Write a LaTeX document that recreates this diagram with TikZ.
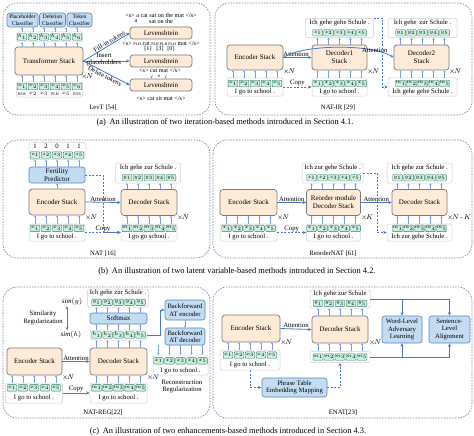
\documentclass[tikz,border=0pt]{standalone}
\usepackage{fontspec}
\setmainfont{Liberation Serif}
\newfontfamily\djv{DejaVu Sans}
\usetikzlibrary{arrows.meta,calc}
\definecolor{pan}{HTML}{7D8DAE}
\definecolor{orf}{HTML}{FDEBD8}
\definecolor{stkb}{HTML}{7A7A7A}
\definecolor{bf}{HTML}{C3DCF2}
\definecolor{bb}{HTML}{5A86C0}
\definecolor{tokf}{HTML}{CDEFE0}
\definecolor{tokb}{HTML}{2E7D6E}
\definecolor{contc}{HTML}{CFCFCF}
\definecolor{sa}{HTML}{7C9EE0}
\definecolor{ma}{HTML}{4A78C8}
\newcommand\fsL{\fontsize{7}{8}\selectfont}
\newcommand\fsM{\fontsize{6.7}{7.4}\selectfont}
\newcommand\fsV{\fontsize{6.2}{7}\selectfont}
\newcommand\fsS{\fontsize{5.6}{6.2}\selectfont}
\newcommand\fsT{\fontsize{5}{5.5}\selectfont}
\newcommand\fsX{\fontsize{4}{4.5}\selectfont}
\newcommand\fsC{\fontsize{8.4}{9.5}\selectfont}
\newcommand\trow[5]{\foreach \i in {1,...,#5}{\node[tok] (#1\i) at ({#2+(\i-1)*11},#3) {$#4_{\i}$};}}
\newcommand\arrs[4]{\foreach \i in {1,...,#4}{\draw[sarr] (#1.north -| #3\i) -- (#2.south -| #3\i);}}
\begin{document}
\begin{tikzpicture}[x=1pt,y=-1pt,
 panel/.style={draw=pan, dash pattern=on 1.6pt off 1.2pt, rounded corners=14pt, line width=0.7pt},
 tok/.style={draw=tokb, fill=tokf, rounded corners=0.8pt, minimum width=9.6pt, minimum height=6.5pt, inner sep=0pt, line width=0.4pt, font=\fsT},
 stk/.style={draw=stkb, fill=orf, rounded corners=3pt, line width=0.7pt, align=center, font=\fsL, inner sep=1pt},
 bbox/.style={draw=bb, fill=bf, rounded corners=2.5pt, line width=0.6pt, align=center, font=\fsS, inner sep=0.5pt},
 cont/.style={draw=contc, rounded corners=1.5pt, line width=0.5pt, inner sep=0pt},
 txt/.style={font=\fsM, inner sep=0pt},
 lab/.style={font=\fsM, inner sep=0.6pt},
 capt/.style={font=\fsC, inner sep=0pt},
 xn/.style={font=\fsL, inner sep=0pt, anchor=west},
 sarr/.style={draw=sa, line width=0.7pt, -{Stealth[length=2pt,width=2.3pt]}},
 marr/.style={draw=ma, line width=0.8pt, -{Stealth[length=3.5pt,width=3pt]}},
 darr/.style={marr, dash pattern=on 2pt off 1.5pt},
 mline/.style={draw=ma, line width=0.8pt}]
\useasboundingbox (0,0) rectangle (474,436);

% ================= (a) LevT =================
\draw[panel] (3,3) rectangle (210,115);
\node[lab] (levtlab) at (103,108) {LevT [54]};
\node[bbox, minimum width=31pt, minimum height=14pt] (pc) at (22.5,20) {Placeholder\\Classifier};
\node[bbox, minimum width=26pt, minimum height=14pt] (dc) at (52.5,20) {Deletion\\Classifier};
\node[bbox, minimum width=25pt, minimum height=14pt] (tc) at (79.5,20) {Token\\Classifier};
\node[cont, minimum width=66pt, minimum height=10pt] (ahc) at (49.5,37) {};
\trow{ah}{22}{37}{h}{6}
\draw[sarr] (ahc.north -| ah1) -- (pc.south -| ah1);
\draw[sarr] (ahc.north -| ah2) -- (pc.south -| ah2);
\draw[sarr] (ahc.north -| ah3) -- (dc.south -| ah3);
\draw[sarr] (ahc.north -| ah4) -- (dc.south -| ah4);
\draw[sarr] (ahc.north -| ah5) -- (tc.south -| ah5);
\draw[sarr] (ahc.north -| ah6) -- (tc.south -| ah6);
\node[stk, minimum width=68pt, minimum height=28pt] (ts) at (49,61) {Transformer Stack};
\arrs{ts}{ahc}{ah}{6}
\node[cont, minimum width=66pt, minimum height=15pt] (axc) at (49.5,89.5) {};
\trow{ax}{22}{86.5}{x}{6}
\node[txt,font=\fsX] (axl1) at (22,93.8) {BOS};
\node[txt,font=\fsT] (axl2) at (33,93.8) {$x_2$};
\node[txt,font=\fsT] (axl3) at (44,93.8) {$x_3$};
\node[txt,font=\fsX] (axl4) at (55,93.8) {PLH};
\node[txt,font=\fsT] (axl5) at (66,93.8) {$x_5$};
\node[txt,font=\fsX] (axl6) at (77,93.8) {EOS};
\arrs{axc}{ts}{ax}{6}
\node[xn] (axn) at (81,77) {$\times\! N$};
\node[stk, minimum width=62pt, minimum height=12pt] (lv1) at (161,33) {Levenshtein};
\node[stk, minimum width=62pt, minimum height=12pt] (lv2) at (161,61) {Levenshtein};
\node[stk, minimum width=62pt, minimum height=12pt] (lv3) at (161,85) {Levenshtein};
\node[txt,font=\fsV] (lt1) at (161,15) {<s> a cat sat on the mat </s>};
\node[txt,font=\fsV] (lt2) at (136,21.5) {a};
\node[txt,font=\fsV] (lt3) at (161,21.5) {sat on the};
\node[txt,font=\fsV] (lt4) at (161,43) {<s> {\fsX PLH} cat {\fsX PLH PLH PLH} mat </s>};
\node[txt,font=\fsV] (lt5) at (148,49) {[1]};
\node[txt,font=\fsV] (lt6) at (160,49) {[3]};
\node[txt,font=\fsV] (lt7) at (171,49) {[0]};
\node[txt,font=\fsV] (lt8) at (160,70) {<s> cat mat </s>};
\node[txt,font=\djv\fsX] (lt9) at (152,76.5) {√};
\node[txt,font=\djv\fsX] (lt10) at (159,76.5) {×};
\node[txt,font=\djv\fsX] (lt11) at (166,76.5) {√};
\node[txt,font=\fsV] (lt12) at (161,98) {<s> cat sit mat </s>};
\draw[marr] (ts.east) -- node[lab, sloped, above, pos=0.6] {Fill-in tokens} (lv1.west);
\draw[marr] (ts.east) -- (lv2.west);
\node[lab, align=center] (insl) at (104,59.5) {Insert\\placeholders};
\draw[marr] (ts.east) -- node[lab, sloped, below, pos=0.5] {Delete tokens} (lv3.west);

% ================= NAT-IR =================
\draw[panel] (215,3) rectangle (472,115);
\node[lab] (natirlab) at (338,108) {NAT-IR [29]};
\node[stk, minimum width=56pt, minimum height=25pt] (ie) at (255,57.5) {Encoder Stack};
\node[cont, minimum width=56pt, minimum height=18pt] (iein) at (255,87) {};
\trow{iex}{233}{83.5}{x}{5}
\node[txt] (ieint) at (255,91.5) {I go to school .};
\arrs{iein}{ie}{iex}{5}
\node[xn] (ien) at (283,72) {$\times\! N$};
\node[stk, minimum width=55pt, minimum height=25pt] (id1) at (339.5,57.5) {Decoder1\\Stack};
\node[cont, minimum width=55pt, minimum height=18pt] (id1in) at (339.5,87) {};
\trow{id1x}{317.5}{83.5}{x}{5}
\node[txt] (id1int) at (339.5,91.5) {I go to school .};
\arrs{id1in}{id1}{id1x}{5}
\node[xn] (id1n) at (367,72) {$\times\! N$};
\node[cont, minimum width=68pt, minimum height=19pt] (id1out) at (339.5,28) {};
\node[txt] (id1outt) at (339.5,23) {Ich gehe gehe Schule .};
\trow{id1z}{317.5}{32.8}{z}{5}
\arrs{id1}{id1out}{id1z}{5}
\node[stk, minimum width=55pt, minimum height=25pt] (id2) at (421.5,57.5) {Decoder2\\Stack};
\node[cont, minimum width=69pt, minimum height=18pt] (id2in) at (422.5,87) {};
\trow{id2m}{400.5}{83.5}{m}{5}
\node[txt] (id2int) at (422.5,91.5) {Ich gehe gehe Schule .};
\arrs{id2in}{id2}{id2m}{5}
\node[xn] (id2n) at (449,72) {$\times\! N$};
\node[cont, minimum width=69pt, minimum height=19pt] (id2out) at (422.5,28) {};
\node[txt] (id2outt) at (422.5,23) {Ich gehe\, zur Schule .};
\trow{id2y}{400.5}{32.8}{y}{5}
\arrs{id2}{id2out}{id2y}{5}
\draw[marr] (ie.east) -- node[lab, above, pos=0.45] {Attention} (id1.west);
\draw[marr] (ie.east) .. controls (300,45) and (370,43) .. node[lab, pos=0.8, inner sep=0pt] {Attention} (id2.west);
\draw[darr] (iein.east) -- node[lab, above] {Copy} (id1in.west);
\draw[darr] (id1out.north east) -- ++(9,0) |- (id2in.west);

% ================= NAT =================
\draw[panel] (3,140) rectangle (210,258);
\node[lab] (natlab) at (103,254) {NAT [16]};
\node[cont, minimum width=56pt, minimum height=17pt] (nfc) at (57,151) {};
\trow{nz}{35}{155}{z}{5}
\node[txt] (nn1) at (35,146.5) {1};
\node[txt] (nn2) at (46,146.5) {2};
\node[txt] (nn3) at (57,146.5) {0};
\node[txt] (nn4) at (68,146.5) {1};
\node[txt] (nn5) at (79,146.5) {1};
\node[bbox, font=\fsL, minimum width=56pt, minimum height=16pt] (nfp) at (57,175) {Fertility\\Predictor};
\arrs{nfp}{nfc}{nz}{5}
\node[stk, minimum width=56pt, minimum height=26pt] (ne) at (57,202) {Encoder Stack};
\draw[sarr] (ne.north) -- (nfp.south);
\node[cont, minimum width=56pt, minimum height=17pt] (nein) at (57,232.5) {};
\trow{nex}{35}{228.3}{x}{5}
\node[txt] (neint) at (57,237) {I go to school .};
\arrs{nein}{ne}{nex}{5}
\node[xn] (nen) at (85,218) {$\times\! N$};
\node[stk, minimum width=56pt, minimum height=26pt] (nd) at (149,202.5) {Decoder Stack};
\node[cont, minimum width=65pt, minimum height=20pt] (ndout) at (148,173) {};
\node[txt] (ndoutt) at (148,168.3) {Ich gehe zur Schule .};
\trow{ndy}{127}{177.7}{y}{5}
\arrs{nd}{ndout}{ndy}{5}
\node[cont, minimum width=56pt, minimum height=17pt] (ndin) at (149,232.5) {};
\trow{ndm}{127}{228.3}{m}{5}
\node[txt] (ndint) at (149,237) {I go go school .};
\arrs{ndin}{nd}{ndm}{5}
\node[xn] (ndn) at (177,218) {$\times\! N$};
\draw[marr] (ne.east) -- node[lab, above, pos=0.5] {Attention} (nd.west);
\draw[darr] (nfp.east) -- ++(18,0) |- (ndin.west);
\draw[darr] (nein.east) -- node[lab, above, pos=0.5] {Copy} (ndin.west);

% ================= ReorderNAT =================
\draw[panel] (213,140) rectangle (472,258);
\node[lab] (rlab) at (333,254) {ReorderNAT [61]};
\node[stk, minimum width=57pt, minimum height=26pt] (re) at (248.5,202.5) {Encoder Stack};
\node[cont, minimum width=57pt, minimum height=17pt] (rein) at (248.5,232.5) {};
\trow{rex}{226.5}{228.3}{x}{5}
\node[txt] (reint) at (248.5,237) {I go to school .};
\arrs{rein}{re}{rex}{5}
\node[xn] (ren) at (277,218) {$\times\! N$};
\node[stk, minimum width=54pt, minimum height=26pt] (rr) at (333.5,202.5) {Reorder module\\Decoder Stack};
\node[cont, minimum width=61pt, minimum height=20pt] (rrout) at (332.5,173) {};
\node[txt] (rroutt) at (332.5,168.3) {Ich zur gehe Schule .};
\trow{rrz}{311.5}{177.7}{z}{5}
\arrs{rr}{rrout}{rrz}{5}
\node[cont, minimum width=54pt, minimum height=17pt] (rrin) at (333.5,232.5) {};
\trow{rrx}{311.5}{228.3}{x}{5}
\node[txt] (rrint) at (333.5,237) {I go to school .};
\arrs{rrin}{rr}{rrx}{5}
\node[xn] (rrn) at (361,218) {$\times\! K$};
\node[stk, minimum width=55pt, minimum height=26pt] (rd) at (419.5,202.5) {Decoder Stack};
\node[cont, minimum width=65pt, minimum height=20pt] (rdout) at (419.5,173) {};
\node[txt] (rdoutt) at (419.5,168.3) {Ich gehe zur Schule .};
\trow{rdy}{397.5}{177.7}{y}{5}
\arrs{rd}{rdout}{rdy}{5}
\node[cont, minimum width=65pt, minimum height=17pt] (rdin) at (419.5,232.5) {};
\trow{rdm}{397.5}{228.3}{m}{5}
\node[txt] (rdint) at (419.5,237) {Ich zur gehe Schule .};
\arrs{rdin}{rd}{rdm}{5}
\node[xn] (rdn) at (447,218) {$\times\! N$\,-\,$K$};
\draw[marr] (re.east) -- node[lab, above, pos=0.5] {Attention} (rr.west);
\draw[marr] (rr.east) -- node[lab, above, pos=0.5] {Attention} (rd.west);
\draw[darr] (rein.east) -- node[lab, above, pos=0.5] {Copy} (rrin.west);
\draw[darr] (rrout.east) -- ++(14,0) |- (rdin.west);

% ================= NAT-REG =================
\draw[panel] (3,287) rectangle (210,418);
\node[lab] (nrlab) at (103,413) {NAT-REG[22]};
\node[stk, minimum width=55pt, minimum height=27pt] (ge) at (34.5,361.5) {Encoder Stack};
\node[cont, minimum width=57pt, minimum height=20pt] (gein) at (34,393) {};
\trow{gex}{12}{387.8}{x}{5}
\node[txt] (geint) at (34,397.8) {I go to school .};
\arrs{gein}{ge}{gex}{5}
\node[xn] (gen) at (62,378) {$\times\! N$};
\node[stk, minimum width=57pt, minimum height=27pt] (gd) at (118.5,361.5) {Decoder Stack};
\node[cont, minimum width=57pt, minimum height=20pt] (gdin) at (118.5,393) {};
\trow{gdm}{96.5}{387.8}{m}{5}
\node[txt] (gdint) at (118.5,397.8) {I go to school .};
\arrs{gdin}{gd}{gdm}{5}
\node[xn] (gdn) at (147,378) {$\times\! N$};
\node[cont, minimum width=57pt, minimum height=10pt] (ghc) at (118.5,335) {};
\trow{gh}{96.5}{335}{h}{5}
\arrs{gd}{ghc}{gh}{5}
\node[bbox, font=\fsL, minimum width=57pt, minimum height=11pt] (gsm) at (118.5,318.5) {Softmax};
\arrs{ghc}{gsm}{gh}{5}
\node[cont, minimum width=61pt, minimum height=18pt] (gout) at (118,298) {};
\node[txt] (goutt) at (118,293.3) {Ich gehe zur Schule .};
\trow{gy}{96.5}{302.3}{y}{5}
\arrs{gsm}{gout}{gy}{5}
\node[lab, font=\fsL] (simy) at (72,302) {$\mathit{sim}(y)$};
\node[lab, font=\fsL] (simh) at (71,334.5) {$\mathit{sim}(h)$};
\draw[draw=ma, line width=0.8pt, {Stealth[length=3pt,width=3pt]}-{Stealth[length=3pt,width=3pt]}] ([xshift=-5pt]simy.south) -- ([xshift=-4pt]simh.north);
\node[lab, align=center] (simreg) at (43,318) {Similarity\\Regularization};
\node[bbox, font=\fsM, minimum width=40pt, minimum height=20pt] (gbe) at (185,310) {Backforward\\AT encoder};
\node[bbox, font=\fsM, minimum width=40pt, minimum height=17pt] (gbd) at (185,336.5) {Backforward\\AT decoder};
\draw[sarr] (gbe.south) -- (gbd.north);
\draw[marr] (ghc.east) -- ++(13,0) |- (gbe.west);
\node[cont, minimum width=55pt, minimum height=20pt] (grc) at (180.5,365) {};
\trow{grx}{158.5}{360.8}{x}{5}
\node[txt] (grct) at (180.5,370.5) {I go to school .};
\foreach \i in {1,...,5}{\draw[sarr] (gbd.south -| grx\i) -- (grc.north -| grx\i);}
\node[lab, align=center] (recreg) at (182,386.5) {Reconstruction\\Regularization};
\draw[marr] (ge.east) -- node[lab, above, pos=0.5] {Attention} (gd.west);
\draw[marr] (gein.east) -- node[lab, above, pos=0.5] {Copy} (gdin.west);

% ================= ENAT =================
\draw[panel] (213,287) rectangle (472,418);
\node[lab] (enlab) at (343,413) {ENAT[23]};
\node[stk, minimum width=58pt, minimum height=27pt] (ee) at (251,328.5) {Encoder Stack};
\node[cont, minimum width=60pt, minimum height=20pt] (eein) at (250,360) {};
\trow{eex}{228}{355}{x}{5}
\node[txt] (eeint) at (250,365) {I go to school .};
\arrs{eein}{ee}{eex}{5}
\node[xn] (een) at (280,343) {$\times\! N$};
\node[stk, minimum width=56pt, minimum height=27pt] (ed) at (340,329.5) {Decoder Stack};
\node[cont, minimum width=60pt, minimum height=18pt] (eout) at (340,299) {};
\node[txt] (eoutt) at (340,294.3) {Ich gehe zur Schule};
\trow{ey}{318}{303.3}{y}{5}
\arrs{ed}{eout}{ey}{5}
\node[cont, minimum width=60pt, minimum height=11pt] (edin) at (340,357) {};
\trow{em}{318}{357}{m}{5}
\arrs{edin}{ed}{em}{5}
\node[xn] (edn) at (369,343) {$\times\! N$};
\node[bbox, font=\fsM, minimum width=40pt, minimum height=27pt] (wl) at (402,329.5) {Word-Level\\Adversary\\Learning};
\node[bbox, font=\fsM, minimum width=41pt, minimum height=27pt] (sla) at (449.5,329.5) {Sentence-\\Level\\Alignment};
\draw[mline] (eout.east) -- (sla.north |- eout.east);
\draw[marr] (wl.north |- eout.east) -- (wl.north);
\draw[marr] (sla.north |- eout.east) -- (sla.north);
\draw[mline] (edin.east) -- (sla.south |- edin.east);
\draw[marr] (wl.south |- edin.east) -- (wl.south);
\draw[marr] (sla.south |- edin.east) -- (sla.south);
\draw[marr] (ee.east) -- node[lab, above, pos=0.5] {Attention} (ed.west);
\node[bbox, font=\fsM, minimum width=65pt, minimum height=19pt] (ph) at (294.5,387.5) {Phrase Table\\Embedding Mapping};
\draw[darr] (eein.south) |- (ph.west);
\draw[darr] (ph.east) -| (edin.south);

% ================= captions =================
\node[capt] (capa) at (225,122) {(a)\;\,An illustration of two iteration-based methods introduced in Section 4.1.};
\node[capt] (capb) at (237,271) {(b)\;\,An illustration of two latent variable-based methods introduced in Section 4.2.};
\node[capt] (capc) at (228,431) {(c)\;\,An illustration of two enhancements-based methods introduced in Section 4.3.};
\end{tikzpicture}
\end{document}
